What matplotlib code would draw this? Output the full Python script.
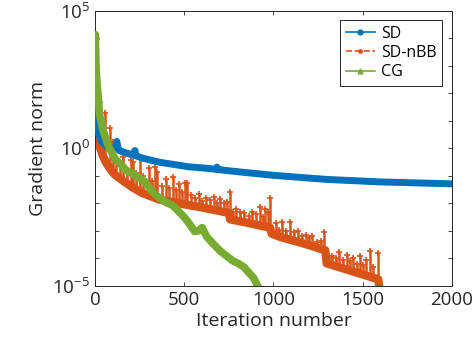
import numpy as np
import matplotlib
matplotlib.use("Agg")
import matplotlib.pyplot as plt
from matplotlib.lines import Line2D

plt.rcParams['font.family'] = ['Open Sans', 'DejaVu Sans']
plt.rcParams['mathtext.fontset'] = 'custom'
plt.rcParams['mathtext.rm'] = 'Open Sans'

# ---------------- data (log10 of gradient norm) ----------------
sd_iter = [0, 1, 2, 4, 7, 12, 20, 35, 60, 100, 116, 122, 128, 135, 180, 215, 220, 224, 229,
           264, 357, 525, 616, 680, 683, 687, 800, 1000, 1300, 1600, 2000]
sd_val = [4.12, 2.55, 2.0, 1.5, 1.1, 0.8, 0.55, 0.25, 0.1, -0.02, 0.05, 0.25, 0.05, -0.08,
          -0.18, -0.25, -0.12, -0.08, -0.27, -0.35, -0.5, -0.67, -0.72, -0.76, -0.68, -0.77,
          -0.85, -0.98, -1.13, -1.22, -1.29]

nbb_iter = [0, 1, 2, 4, 7, 12, 20, 30, 40, 60, 80, 110, 130, 168, 210, 264, 360, 505, 600,
            700, 750, 757, 850, 980, 990, 1037, 1150, 1290, 1298, 1400, 1587, 1592]
nbb_val = [4.12, 2.55, 2.0, 1.5, 1.1, 0.75, 0.35, 0.0, -0.2, -0.5, -0.7, -0.95, -1.05, -1.23,
           -1.42, -1.62, -1.86, -2.04, -2.15, -2.28, -2.35, -2.58, -2.7, -2.88, -3.1, -3.22,
           -3.42, -3.7, -4.18, -4.38, -4.76, -5.0]

spike_iter = [19, 26, 45, 54, 82, 101, 120, 140, 157, 180, 204, 213, 230, 250, 270, 300,
              320, 336, 348, 375, 395, 415, 437, 455, 470, 485, 505, 514, 540, 561, 580,
              600, 620, 645, 665, 682, 700, 720, 740, 757, 775, 790, 810, 835, 860, 880,
              900, 925, 940, 955, 970, 981, 1013, 1030, 1048, 1070, 1093, 1115, 1140, 1160,
              1183, 1200, 1215, 1243, 1265, 1284, 1310, 1330, 1350, 1368, 1390, 1411, 1430,
              1445, 1465, 1486, 1500, 1520, 1542, 1560, 1585]
spike_top = [1.15, 1.7, 0.92, 1.3, 0.74, 0.24, -0.4, -0.6, -0.3, -0.8, -0.43, -0.49, -0.9,
             -0.3, -1.0, -0.7, -1.2, -0.67, -0.86, -1.35, -1.1, -1.45, -1.03, -1.5, -1.3,
             -1.6, -1.26, -1.27, -1.7, -1.8, -1.65, -1.9, -1.8, -1.88, -1.75, -1.99, -1.85,
             -2.0, -1.95, -1.58, -2.3, -2.2, -2.3, -2.36, -2.45, -2.3, -2.4, -2.13, -2.5,
             -2.2, -2.3, -1.8, -2.72, -2.95, -2.68, -3.0, -2.68, -3.05, -3.0, -3.2, -3.15,
             -3.25, -3.2, -3.4, -3.35, -3.03, -3.9, -3.9, -4.0, -3.78, -4.05, -3.88, -4.1,
             -4.0, -4.2, -3.9, -4.25, -4.05, -3.72, -4.3, -3.82]
spike_base = [0.45, 0.1, -0.3, -0.45, -0.75, -0.95, -1.05, -1.1, -1.2, -1.28, -1.4, -1.45,
              -1.5, -1.6, -1.63, -1.75, -1.78, -1.82, -1.85, -1.9, -1.93, -1.95, -1.97, -2.0,
              -2.0, -2.03, -2.05, -2.06, -2.1, -2.12, -2.15, -2.17, -2.2, -2.22, -2.25,
              -2.28, -2.3, -2.32, -2.35, -2.6, -2.62, -2.63, -2.66, -2.7, -2.72, -2.75,
              -2.78, -2.8, -2.82, -2.85, -2.88, -2.9, -3.15, -3.22, -3.25, -3.3, -3.35,
              -3.38, -3.42, -3.46, -3.5, -3.52, -3.55, -3.62, -3.68, -3.72, -4.22, -4.25,
              -4.3, -4.32, -4.37, -4.4, -4.45, -4.48, -4.5, -4.55, -4.58, -4.62, -4.68,
              -4.7, -4.78]

cg_iter = [0, 2, 5, 11, 17, 26, 45, 73, 110, 150, 175, 205, 241, 278, 318, 360, 402, 432,
           458, 500, 530, 558, 578, 600, 625, 660, 700, 735, 775, 800, 832, 860, 890, 915]
cg_val = [4.12, 3.6, 3.0, 2.4, 1.94, 1.21, 0.66, 0.12, -0.36, -0.62, -0.8, -0.9, -1.05,
          -1.2, -1.55, -1.8, -1.98, -2.06, -2.22, -2.5, -2.75, -3.02, -3.0, -2.88, -3.2,
          -3.45, -3.72, -3.9, -4.1, -4.17, -4.3, -4.5, -4.72, -5.05]

x_ticks = [0, 500, 1000, 1500, 2000]
y_ticks_exp = [-5, -4, -3, -2, -1, 0, 1, 2, 3, 4, 5]
y_label_exp = [-5, 0, 5]

C_SD = '#0072BD'
C_NBB = '#D95319'
C_CG = '#77AC30'

fig = plt.figure(figsize=(4.74, 3.61), dpi=100)
ax = fig.add_axes([0.2004, 0.2078, 0.7532, 0.7626])

to_lin = lambda v: np.power(10.0, np.asarray(v, dtype=float))

ax.plot(sd_iter, to_lin(sd_val), color=C_SD, lw=5.0, solid_capstyle='round',
        solid_joinstyle='round', zorder=3)
ax.plot(nbb_iter, to_lin(nbb_val), color=C_NBB, lw=6.0, solid_capstyle='round',
        solid_joinstyle='round', zorder=2)
ax.vlines(spike_iter, to_lin(spike_base), to_lin(spike_top), color=C_NBB, lw=1.8, zorder=2)
ax.plot(spike_iter, to_lin(spike_top), '+', color=C_NBB, ms=4, mew=1.2, ls='none', zorder=2)
ax.plot(cg_iter, to_lin(cg_val), color=C_CG, lw=5.5, solid_capstyle='round',
        solid_joinstyle='round', zorder=4)
ax.plot(cg_iter[:1], to_lin(cg_val[:1]), '^', color=C_CG, ms=6, zorder=5)

ax.set_yscale('log')
ax.set_xlim(0, 2000)
ax.set_ylim(1e-5, 1e5)
ax.set_xticks(x_ticks)
ax.set_xticklabels([str(t) for t in x_ticks])
ax.set_yticks([10.0 ** e for e in y_ticks_exp])
ax.set_yticklabels([r'$\mathregular{10^{%d}}$' % e if e in y_label_exp else '' for e in y_ticks_exp])
ax.yaxis.set_minor_locator(matplotlib.ticker.NullLocator())
ax.tick_params(direction='in', top=True, right=True, length=3, width=0.6,
               labelsize=13.5, colors='#262626')
for s in ax.spines.values():
    s.set_color('#262626')
    s.set_linewidth(0.7)

ax.set_xlabel('Iteration number', fontsize=14, color='#262626', labelpad=2)
ax.set_ylabel('Gradient norm', fontsize=14, color='#262626', labelpad=4)

handles = [
    Line2D([], [], color=C_SD, lw=1.2, marker='o', ms=3.5),
    Line2D([], [], color=C_NBB, lw=1.2, ls='--', marker='.', ms=5),
    Line2D([], [], color=C_CG, lw=1.2, marker='^', ms=3.5),
]
leg = ax.legend(handles, ['SD', 'SD-nBB', 'CG'], loc='upper right', fontsize=11.5,
                fancybox=False, framealpha=1, edgecolor='#262626', handlelength=1.8,
                borderpad=0.35, labelspacing=0.2, handletextpad=0.4,
                borderaxespad=0.6)
leg.get_frame().set_linewidth(0.7)

fig.savefig('out.png', dpi=100)
